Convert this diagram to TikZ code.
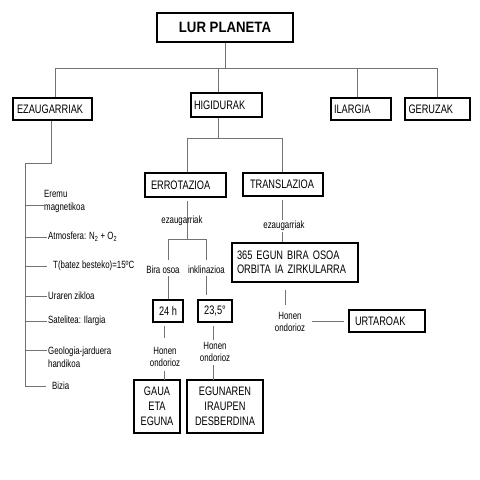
\documentclass[tikz,border=0pt]{standalone}
\usepackage{fontspec}
\setmainfont{Liberation Sans}[FakeStretch=0.75]
\newfontfamily\titlefont{Liberation Sans}[FakeStretch=0.88]
\begin{document}
\begin{tikzpicture}[x=1pt,y=-1pt,
  conn/.style={draw=black!55, line width=0.9pt},
  thinbox/.style={draw=black, line width=1.2pt, inner ysep=0pt, align=left, font=\fontsize{12.3}{14}\selectfont},
  thickbox/.style={draw=black, line width=1.8pt, inner ysep=0pt, align=left, font=\fontsize{12.3}{14}\selectfont},
  cbox/.style={draw=black, line width=1.8pt, inner sep=0pt, align=center, font=\fontsize{12.3}{15}\selectfont},
  lab/.style={inner sep=1pt, font=\fontsize{10.5}{12.8}\selectfont, align=center},
  item/.style={inner sep=0pt, anchor=west, font=\fontsize{10.5}{12.8}\selectfont, align=left}]
\useasboundingbox (0,0) rectangle (480,480);
% top
\node[draw, line width=1.8pt, minimum width=136pt, minimum height=29pt, inner sep=0pt,
  font=\titlefont\bfseries\fontsize{15}{17}\selectfont] (title) at (225,27.5) {LUR PLANETA};
\node[thinbox, text width=71pt, inner xsep=4pt, minimum height=22pt] (ez) at (52.5,109) {EZAUGARRIAK};
\node[thinbox, text width=65pt, inner xsep=3pt, minimum height=24pt] (hig) at (226.5,105) {HIGIDURAK};
\node[thinbox, text width=54pt, inner xsep=3pt, minimum height=22pt] (ila) at (361,109) {ILARGIA};
\node[thinbox, text width=58pt, inner xsep=3.5pt, minimum height=22pt] (ger) at (437.5,109) {GERUZAK};
\coordinate (bus) at (0,68);
\draw[conn] (title.south) -- (title.south |- bus);
\draw[conn] ([xshift=2.5pt]ez.north |- bus) -- ([xshift=-0.5pt]ger.north |- bus);
\draw[conn] ([xshift=2.5pt]ez.north |- bus) -- ([xshift=2.5pt]ez.north);
\draw[conn] ([xshift=-8.5pt]hig.north |- bus) -- ([xshift=-8.5pt]hig.north);
\draw[conn] ([xshift=-4pt]ila.north |- bus) -- ([xshift=-4pt]ila.north);
\draw[conn] ([xshift=-0.5pt]ger.north |- bus) -- ([xshift=-0.5pt]ger.north);
% left list
\node[item] (erem) at (44,201.5) {Eremu\\magnetikoa};
\node[item] (atm) at (48,237) {Atmosfera: N\textsubscript{2} + O\textsubscript{2}};
\node[item] (temp) at (53,266) {T(batez besteko)=15ºC};
\node[item] (ura) at (48,296) {Uraren zikloa};
\node[item] (sat) at (48,321) {Satelitea: Ilargia};
\node[item] (geo) at (48,357) {Geologia-jarduera\\handikoa};
\node[item] (biz) at (52,386) {Bizia};
\coordinate (tk) at (25,163);
\coordinate (tb) at (25,386);
\draw[conn] ([xshift=-1.5pt]ez.south) -- ([xshift=-1.5pt]ez.south |- tk) -- (tk) -- (tb);
\draw[conn] (tk |- 0,205) -- (45,205);
\draw[conn] (tk |- atm.west) -- ([xshift=-1pt]atm.west);
\draw[conn] (tk |- temp.west) -- ([xshift=-6pt]temp.west);
\draw[conn] (tk |- ura.west) -- ([xshift=-1pt]ura.west);
\draw[conn] (tk |- sat.west) -- ([xshift=-1pt]sat.west);
\draw[conn] (25,350) -- (47,350);
\draw[conn] (tb) -- ([xshift=-6pt]biz.west);
% higidurak
\node[thickbox, text width=69pt, inner xsep=6pt, minimum height=24pt] (err) at (185.5,185) {ERROTAZIOA};
\node[thickbox, text width=66pt, inner xsep=7pt, minimum height=23pt] (tra) at (283,184.5) {TRANSLAZIOA};
\coordinate (bus2) at (0,138);
\draw[conn] ([xshift=-8.5pt]hig.south) -- ([xshift=-8.5pt]hig.south |- bus2);
\draw[conn] ([xshift=1.5pt]err.north |- bus2) -- ([xshift=-1pt]tra.north |- bus2);
\draw[conn] ([xshift=1.5pt]err.north |- bus2) -- ([xshift=1.5pt]err.north);
\draw[conn] ([xshift=-1pt]tra.north |- bus2) -- ([xshift=-1pt]tra.north);
% errotazioa
\coordinate (bus3) at (0,239);
\draw[conn] ([xshift=1.5pt,yshift=-3pt]err.south) -- ([xshift=1.5pt]err.south |- bus3);
\node[lab] (ez1) at (182,221) {ezaugarriak};
\node[lab] (bira) at (163,270) {Bira osoa};
\node[lab] (inkl) at (206.5,270) {inklinazioa};
\draw[conn] (168,260) -- (168,239) -- (206,239) -- (206,260);
\node[cbox, minimum width=30pt, minimum height=22pt] (b24) at (168,311) {24 h};
\node[cbox, minimum width=34pt, minimum height=22pt] (b235) at (215,311) {23,5°};
\draw[conn] (168,276) -- (b24.north);
\draw[conn] (206,276) -- (206,295);
\node[lab] (hon1) at (165,357) {Honen\\ondorioz};
\node[lab] (hon2) at (215,352) {Honen\\ondorioz};
\node[cbox, minimum width=46pt, minimum height=53pt] (gaua) at (157,406.5) {GAUA\\ETA\\EGUNA};
\node[cbox, minimum width=76pt, minimum height=53pt] (egun) at (225,406.5) {EGUNAREN\\IRAUPEN\\DESBERDINA};
\draw[conn] (164,326) -- (164,338);
\draw[conn] (164,371) -- (164,380);
\draw[conn] (213,326) -- (213,340);
\draw[conn] (213,365) -- (213,380);
% translazioa
\node[lab] (ez2) at (284,226) {ezaugarriak};
\draw[conn] ([xshift=-1pt,yshift=-3pt]tra.south) -- ([xshift=-1pt]tra.south |- ez2.north);
\node[thickbox, text width=116pt, inner xsep=5pt, minimum height=39pt, line width=1.5pt,
  font=\fontsize{12.3}{14}\selectfont] (b365) at (295,262.5) {365 EGUN BIRA OSOA\\ORBITA IA ZIRKULARRA};
\draw[conn] ([xshift=-2pt]ez2.south) -- ([xshift=-2pt]ez2.south |- b365.north);
\node[lab] (hon3) at (290,322) {Honen\\ondorioz};
\draw[conn] (285,290) -- (285,305);
\node[thickbox, text width=64pt, inner xsep=6pt, minimum height=22pt] (urt) at (387,321) {URTAROAK};
\draw[conn] (312,321) -- ([xshift=-4pt]urt.west);
\end{tikzpicture}
\end{document}
